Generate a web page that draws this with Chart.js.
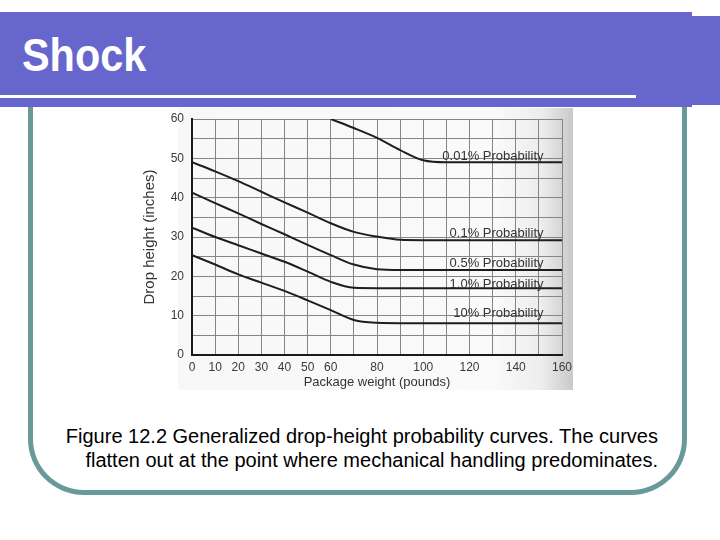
<!DOCTYPE html>
<html>
<head>
<meta charset="utf-8">
<script src="https://cdn.jsdelivr.net/npm/chart.js@4.4.1/dist/chart.umd.min.js"></script>
<style>
  html, body { margin: 0; padding: 0; background: #ffffff; }
  body { width: 720px; height: 540px; position: relative; overflow: hidden; font-family: "Liberation Sans", Arial, sans-serif; }
  .band { position: absolute; left: 0; top: 12px; width: 692px; height: 95px; background: #6666cc; }
  .band2 { position: absolute; left: 692px; top: 16px; width: 28px; height: 89px; background: #6666cc; }
  .rule { position: absolute; left: 0; top: 95px; width: 636px; height: 3px; background: #ffffff; }
  .title { position: absolute; left: 22px; top: 28px; color: #ffffff; font-weight: bold; font-size: 46px; line-height: 54px; transform: scaleX(0.9); transform-origin: left top; }
  .frame { position: absolute; left: 28px; top: 107px; width: 659px; height: 388px; box-sizing: border-box; border: 5px solid #6a9999; border-top: none; border-radius: 0 0 56px 56px; }
  .scan { position: absolute; left: 178px; top: 108px; width: 395px; height: 282px;
          background: linear-gradient(to right, #f8f8f8 0%, #fafafa 80%, #ededed 92%, #c9c9c9 100%); }
  #wrap { position: absolute; left: 140px; top: 108px; width: 433px; height: 282px; }
  .cap { position: absolute; right: 62px; color: #000; font-size: 20px; line-height: 24px; white-space: nowrap; }
</style>
</head>
<body>
<div class="band"></div>
<div class="band2"></div>
<div class="rule"></div>
<div class="title">Shock</div>
<div class="frame"></div>
<div class="scan"></div>
<div id="wrap"><canvas id="c" width="433" height="282"></canvas></div>
<div class="cap" style="top:424px;">Figure 12.2 Generalized drop-height probability curves. The curves</div>
<div class="cap" style="top:448px;">flatten out at the point where mechanical handling predominates.</div>
<script>
// ---- data ----
const weights = [0, 10, 20, 30, 40, 50, 60, 70, 80, 90, 100, 110, 120, 130, 140, 150, 160];
const seriesNames = ["0.01% Probability", "0.1% Probability", "0.5% Probability", "1.0% Probability", "10% Probability"];
const prob001 = [null, null, null, null, null, null, 60, 57.7, 55.2, 52.1, 49.5, 49, 49, 49, 49, 49, 49];
const prob01  = [49, 46.7, 44.2, 41.5, 38.8, 36.2, 33.5, 31.3, 30.1, 29.3, 29.2, 29.2, 29.2, 29.2, 29.2, 29.2, 29.2];
const prob05  = [41.3, 38.6, 36, 33.3, 30.7, 28, 25.4, 23, 21.8, 21.6, 21.6, 21.6, 21.6, 21.6, 21.6, 21.6, 21.6];
const prob1   = [32.4, 30, 27.9, 25.8, 23.7, 21.2, 18.6, 17.1, 17, 17, 17, 17, 17, 17, 17, 17, 17];
const prob10  = [25.4, 23, 20.5, 18.4, 16.3, 13.9, 11.4, 8.9, 8.2, 8.1, 8.1, 8.1, 8.1, 8.1, 8.1, 8.1, 8.1];
const xTickLabels = [0, 10, 20, 30, 40, 50, 60, 80, 100, 120, 140, 160];
const yTickLabels = [0, 10, 20, 30, 40, 50, 60];

const allSeries = [prob001, prob01, prob05, prob1, prob10];
// label placement (style): right edge in weight units, baseline lift in pixels above the curve
const labelRightX = 152;
const labelLift = [2, 3, 3, 0, 6];

const datasets = allSeries.map((arr, i) => ({
  label: seriesNames[i],
  data: weights.map((w, j) => ({ x: w, y: arr[j] })),
  borderColor: '#1e1e1e',
  borderWidth: 2,
  pointRadius: 0,
  fill: false,
  cubicInterpolationMode: 'monotone',
  spanGaps: false
}));

const curveLabels = {
  id: 'curveLabels',
  afterDatasetsDraw(chart) {
    const ctx = chart.ctx;
    const xs = chart.scales.x, ys = chart.scales.y;
    ctx.save();
    ctx.font = '13px "Liberation Sans", Arial, sans-serif';
    ctx.fillStyle = '#333333';
    ctx.textAlign = 'right';
    ctx.textBaseline = 'alphabetic';
    allSeries.forEach((arr, i) => {
      const yv = arr[arr.length - 1];
      ctx.fillText(seriesNames[i], xs.getPixelForValue(labelRightX), ys.getPixelForValue(yv) - labelLift[i]);
    });
    ctx.restore();
  }
};

new Chart(document.getElementById('c'), {
  type: 'line',
  data: { datasets },
  options: {
    responsive: false,
    animation: false,
    devicePixelRatio: 1,
    layout: { padding: { left: 0, right: 11, top: 11, bottom: 0 } },
    plugins: { legend: { display: false }, tooltip: { enabled: false } },
    scales: {
      x: {
        type: 'linear', min: 0, max: 160,
        afterFit(s) { s.height = 35; s.paddingLeft = 0; s.paddingRight = 0; },
        afterBuildTicks(s) { s.ticks = weights.map(v => ({ value: v })); },
        ticks: {
          padding: 5, color: '#3a3a3a', maxRotation: 0, autoSkip: false,
          font: { family: '"Liberation Sans", Arial, sans-serif', size: 12 },
          callback: v => xTickLabels.includes(v) ? String(v) : ''
        },
        grid: { color: '#858585', lineWidth: 1, drawTicks: false },
        border: { color: '#1a1a1a', width: 2 },
        title: { display: true, text: 'Package weight (pounds)', color: '#333333', padding: { top: 0, bottom: 0 },
                 font: { family: '"Liberation Sans", Arial, sans-serif', size: 13 } }
      },
      y: {
        type: 'linear', min: 0, max: 60,
        afterFit(s) { s.width = 52; s.paddingTop = 0; s.paddingBottom = 0; },
        ticks: {
          stepSize: 5, padding: 8, color: '#3a3a3a', autoSkip: false,
          font: { family: '"Liberation Sans", Arial, sans-serif', size: 12 },
          callback: v => yTickLabels.includes(v) ? String(v) : ''
        },
        grid: { color: '#858585', lineWidth: 1, drawTicks: false },
        border: { color: '#1a1a1a', width: 2 },
        title: { display: true, text: 'Drop height (inches)', color: '#333333', padding: { top: 1, bottom: 0 },
                 font: { family: '"Liberation Sans", Arial, sans-serif', size: 15 } }
      }
    }
  },
  plugins: [curveLabels]
});
</script>
</body>
</html>
